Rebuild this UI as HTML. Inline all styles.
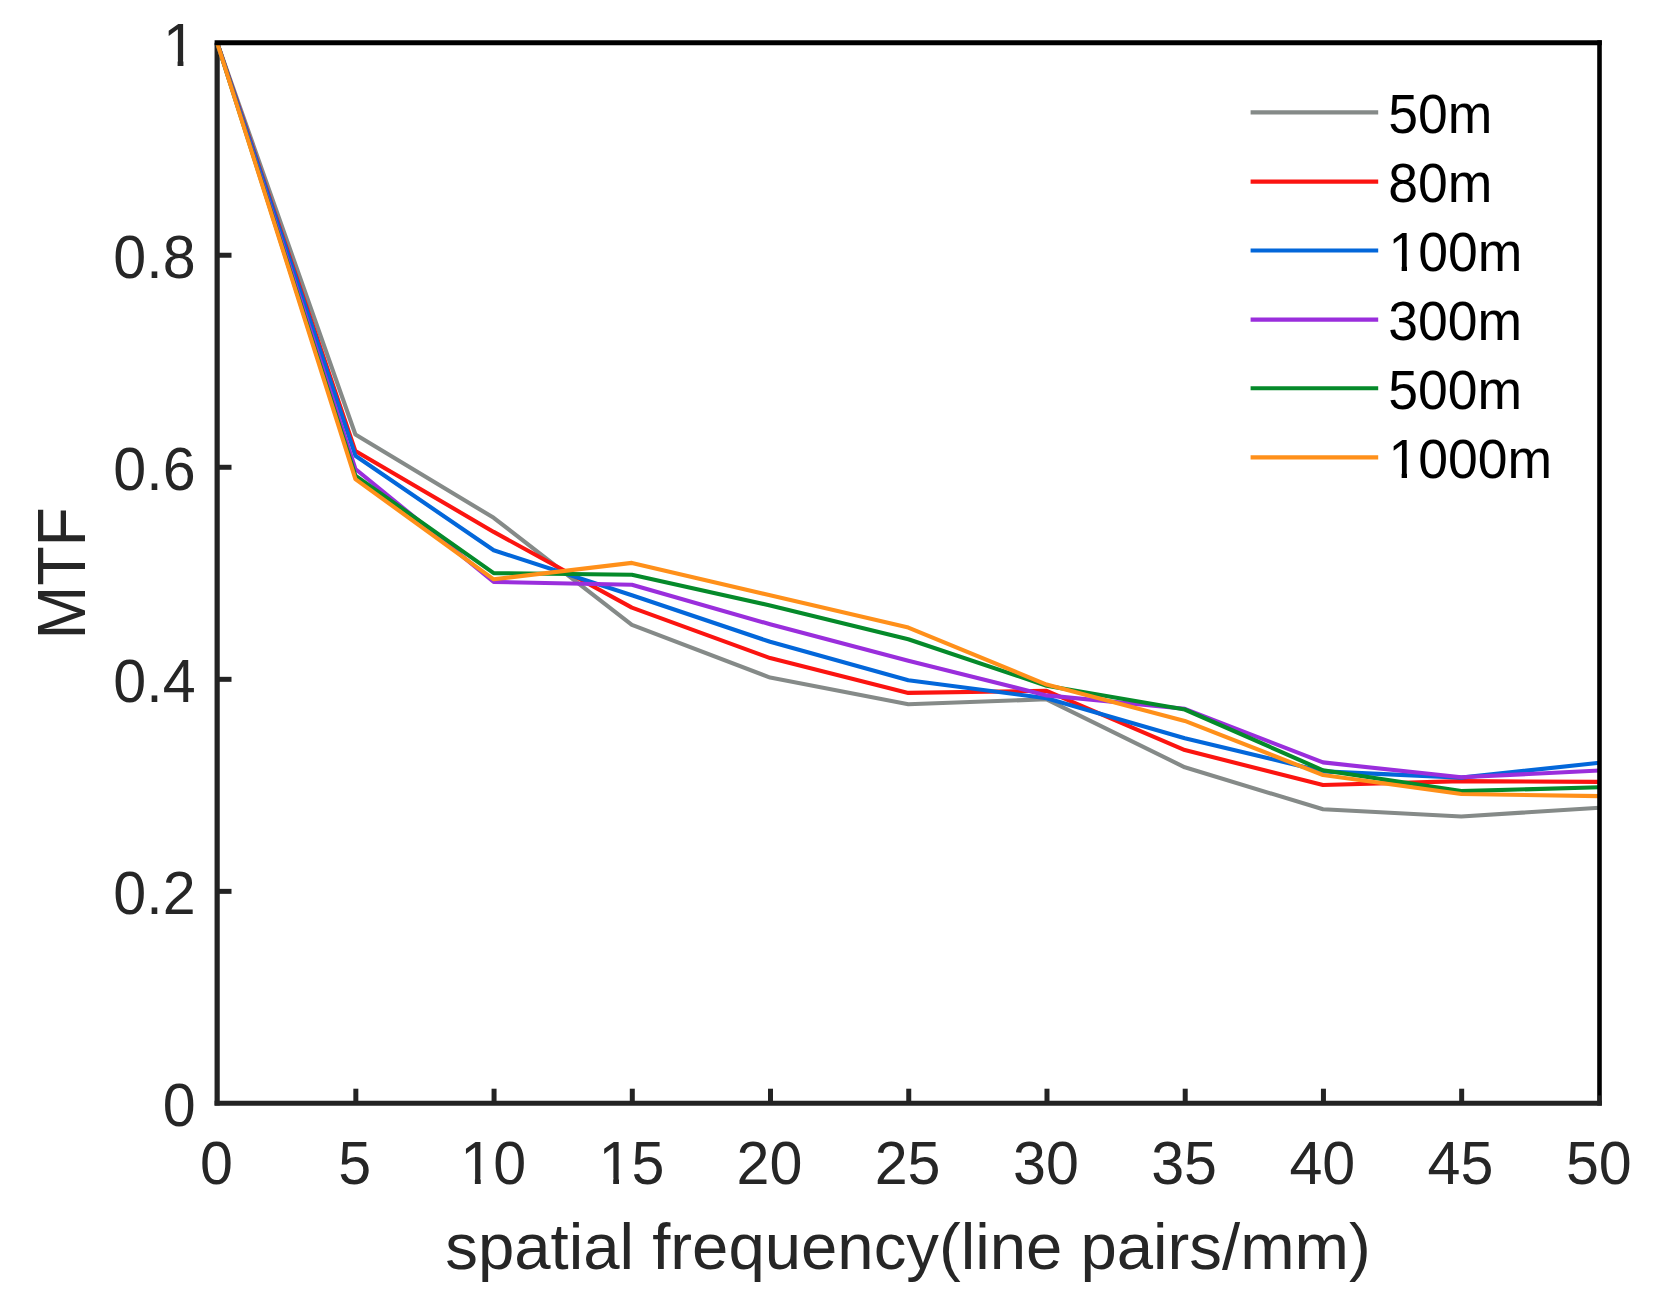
<!DOCTYPE html>
<html lang="en">
<head>
<meta charset="utf-8">
<title>MTF vs spatial frequency</title>
<style>
html,body{margin:0;padding:0;background:#fff;}
body{width:1669px;height:1301px;overflow:hidden;}
svg{display:block;}
svg text{font-family:"Liberation Sans",Arial,Helvetica,sans-serif;}
.tk{font-size:59.2px;fill:#262626;}
.lb{font-size:65.3px;fill:#262626;}
.lg{font-size:53.5px;fill:#000;}
</style>
</head>
<body>
<svg width="1669" height="1301" viewBox="0 0 1669 1301">
<defs>
<clipPath id="c1t" clipPathUnits="userSpaceOnUse"><rect x="-5" y="-94.72" width="400" height="89.30"/><rect x="14.59" y="-5.92" width="5.83" height="7.42"/><rect x="33.92" y="-5.92" width="400" height="35.42"/></clipPath>
<clipPath id="c1g" clipPathUnits="userSpaceOnUse"><rect x="-5" y="-85.60" width="400" height="80.60"/><rect x="13.15" y="-5.50" width="5.33" height="7.00"/><rect x="30.75" y="-5.50" width="400" height="35.00"/></clipPath>
</defs>
<rect x="0" y="0" width="1669" height="1301" fill="#ffffff"/>
<line stroke="#232323" stroke-width="5.20" x1="217.15" y1="42.80" x2="217.15" y2="1105.50"/>
<g stroke="#232323" stroke-width="5.00" fill="none" stroke-linecap="butt">
<line x1="217.2" y1="891.36" x2="231.5" y2="891.36"/>
<line x1="217.2" y1="679.32" x2="231.5" y2="679.32"/>
<line x1="217.2" y1="467.28" x2="231.5" y2="467.28"/>
<line x1="217.2" y1="255.24" x2="231.5" y2="255.24"/>
</g>
<g fill="none" stroke-width="4.10" stroke-linejoin="round" stroke-linecap="butt">
<polyline stroke="#858a88" points="217.2,42.8 355.4,434.5 493.7,517.8 631.9,624.8 770.1,677.6 908.3,704.2 1046.6,699.3 1184.8,767.3 1323.0,809.3 1461.3,816.5 1599.5,807.7"/>
<polyline stroke="#fb1410" points="217.2,42.8 355.4,451.1 493.7,531.9 631.9,607.6 770.1,658.1 908.3,692.9 1046.6,690.8 1184.8,750.1 1323.0,785.0 1461.3,781.1 1599.5,781.9"/>
<polyline stroke="#0367da" points="217.2,42.8 355.4,455.7 493.7,550.3 631.9,595.2 770.1,641.8 908.3,680.3 1046.6,698.2 1184.8,738.3 1323.0,771.4 1461.3,777.6 1599.5,762.8"/>
<polyline stroke="#9a2edc" points="217.2,42.8 355.4,469.0 493.7,581.9 631.9,584.8 770.1,624.3 908.3,660.7 1046.6,695.4 1184.8,708.8 1323.0,762.4 1461.3,777.3 1599.5,770.5"/>
<polyline stroke="#058a2a" points="217.2,42.8 355.4,475.7 493.7,573.1 631.9,574.8 770.1,605.4 908.3,639.3 1046.6,685.7 1184.8,709.5 1323.0,770.3 1461.3,791.1 1599.5,787.3"/>
<polyline stroke="#ff901a" points="217.2,42.8 355.4,479.1 493.7,579.3 631.9,562.9 770.1,595.3 908.3,627.6 1046.6,684.6 1184.8,720.9 1323.0,775.0 1461.3,794.0 1599.5,796.1"/>
</g>
<line stroke="#000000" stroke-width="5.00" x1="214.60" y1="42.85" x2="1601.80" y2="42.85"/>
<line stroke="#000000" stroke-width="4.60" x1="1599.50" y1="40.30" x2="1599.50" y2="1105.50"/>
<g stroke="#232323" stroke-width="5.00" fill="none" stroke-linecap="butt">
<line x1="214.60" y1="1103.15" x2="1601.80" y2="1103.15"/>
<line x1="355.83" y1="1103.0" x2="355.83" y2="1088.7"/>
<line x1="494.06" y1="1103.0" x2="494.06" y2="1088.7"/>
<line x1="632.29" y1="1103.0" x2="632.29" y2="1088.7"/>
<line x1="770.52" y1="1103.0" x2="770.52" y2="1088.7"/>
<line x1="908.75" y1="1103.0" x2="908.75" y2="1088.7"/>
<line x1="1046.98" y1="1103.0" x2="1046.98" y2="1088.7"/>
<line x1="1185.21" y1="1103.0" x2="1185.21" y2="1088.7"/>
<line x1="1323.44" y1="1103.0" x2="1323.44" y2="1088.7"/>
<line x1="1461.67" y1="1103.0" x2="1461.67" y2="1088.7"/>
</g>
<line stroke="#232323" stroke-width="2.8" x1="1599.50" y1="1103.0" x2="1599.50" y2="1095.4"/>
<g class="tk">
<text transform="translate(200.0,1183.6) scale(1,1.045)">0</text>
<text transform="translate(338.3,1183.6) scale(1,1.045)">5</text>
<text transform="translate(460.3,1183.6) scale(1,1.045)" clip-path="url(#c1t)">10</text>
<text transform="translate(598.6,1183.6) scale(1,1.045)" clip-path="url(#c1t)">15</text>
<text transform="translate(736.5,1183.6) scale(1,1.045)">20</text>
<text transform="translate(874.7,1183.6) scale(1,1.045)">25</text>
<text transform="translate(1013.0,1183.6) scale(1,1.045)">30</text>
<text transform="translate(1151.2,1183.6) scale(1,1.045)">35</text>
<text transform="translate(1289.4,1183.6) scale(1,1.045)">40</text>
<text transform="translate(1427.6,1183.6) scale(1,1.045)">45</text>
<text transform="translate(1565.9,1183.6) scale(1,1.045)">50</text>
</g>
<g class="tk">
<text transform="translate(162.7,1126.0) scale(1,1.045)">0</text>
<text transform="translate(113.3,914.0) scale(1,1.045)">0.2</text>
<text transform="translate(113.3,701.9) scale(1,1.045)">0.4</text>
<text transform="translate(113.3,489.9) scale(1,1.045)">0.6</text>
<text transform="translate(113.3,277.8) scale(1,1.045)">0.8</text>
<text transform="translate(163.0,65.8) scale(1,1.045)" clip-path="url(#c1t)">1</text>
</g>
<text class="lb" text-anchor="middle" x="908.0" y="1268.6">spatial frequency(line pairs/mm)</text>
<text class="lb" text-anchor="middle" transform="translate(85.3,573.3) rotate(-90) scale(0.988,1.045)">MTF</text>
<g fill="none" stroke-width="4.10">
<line stroke="#858a88" x1="1250.6" y1="112.4" x2="1378.2" y2="112.4"/>
<line stroke="#fb1410" x1="1250.6" y1="181.6" x2="1378.2" y2="181.6"/>
<line stroke="#0367da" x1="1250.6" y1="250.5" x2="1378.2" y2="250.5"/>
<line stroke="#9a2edc" x1="1250.6" y1="319.6" x2="1378.2" y2="319.6"/>
<line stroke="#058a2a" x1="1250.6" y1="388.3" x2="1378.2" y2="388.3"/>
<line stroke="#ff901a" x1="1250.6" y1="457.4" x2="1378.2" y2="457.4"/>
</g>
<g class="lg">
<text transform="translate(1388.3,133.2) scale(1,1.04)">50m</text>
<text transform="translate(1388.3,202.4) scale(1,1.04)">80m</text>
<text transform="translate(1388.5,271.3) scale(1,1.04)" clip-path="url(#c1g)">100m</text>
<text transform="translate(1388.3,340.4) scale(1,1.04)">300m</text>
<text transform="translate(1388.3,409.1) scale(1,1.04)">500m</text>
<text transform="translate(1388.5,478.2) scale(1,1.04)" clip-path="url(#c1g)">1000m</text>
</g>
</svg>
</body>
</html>
